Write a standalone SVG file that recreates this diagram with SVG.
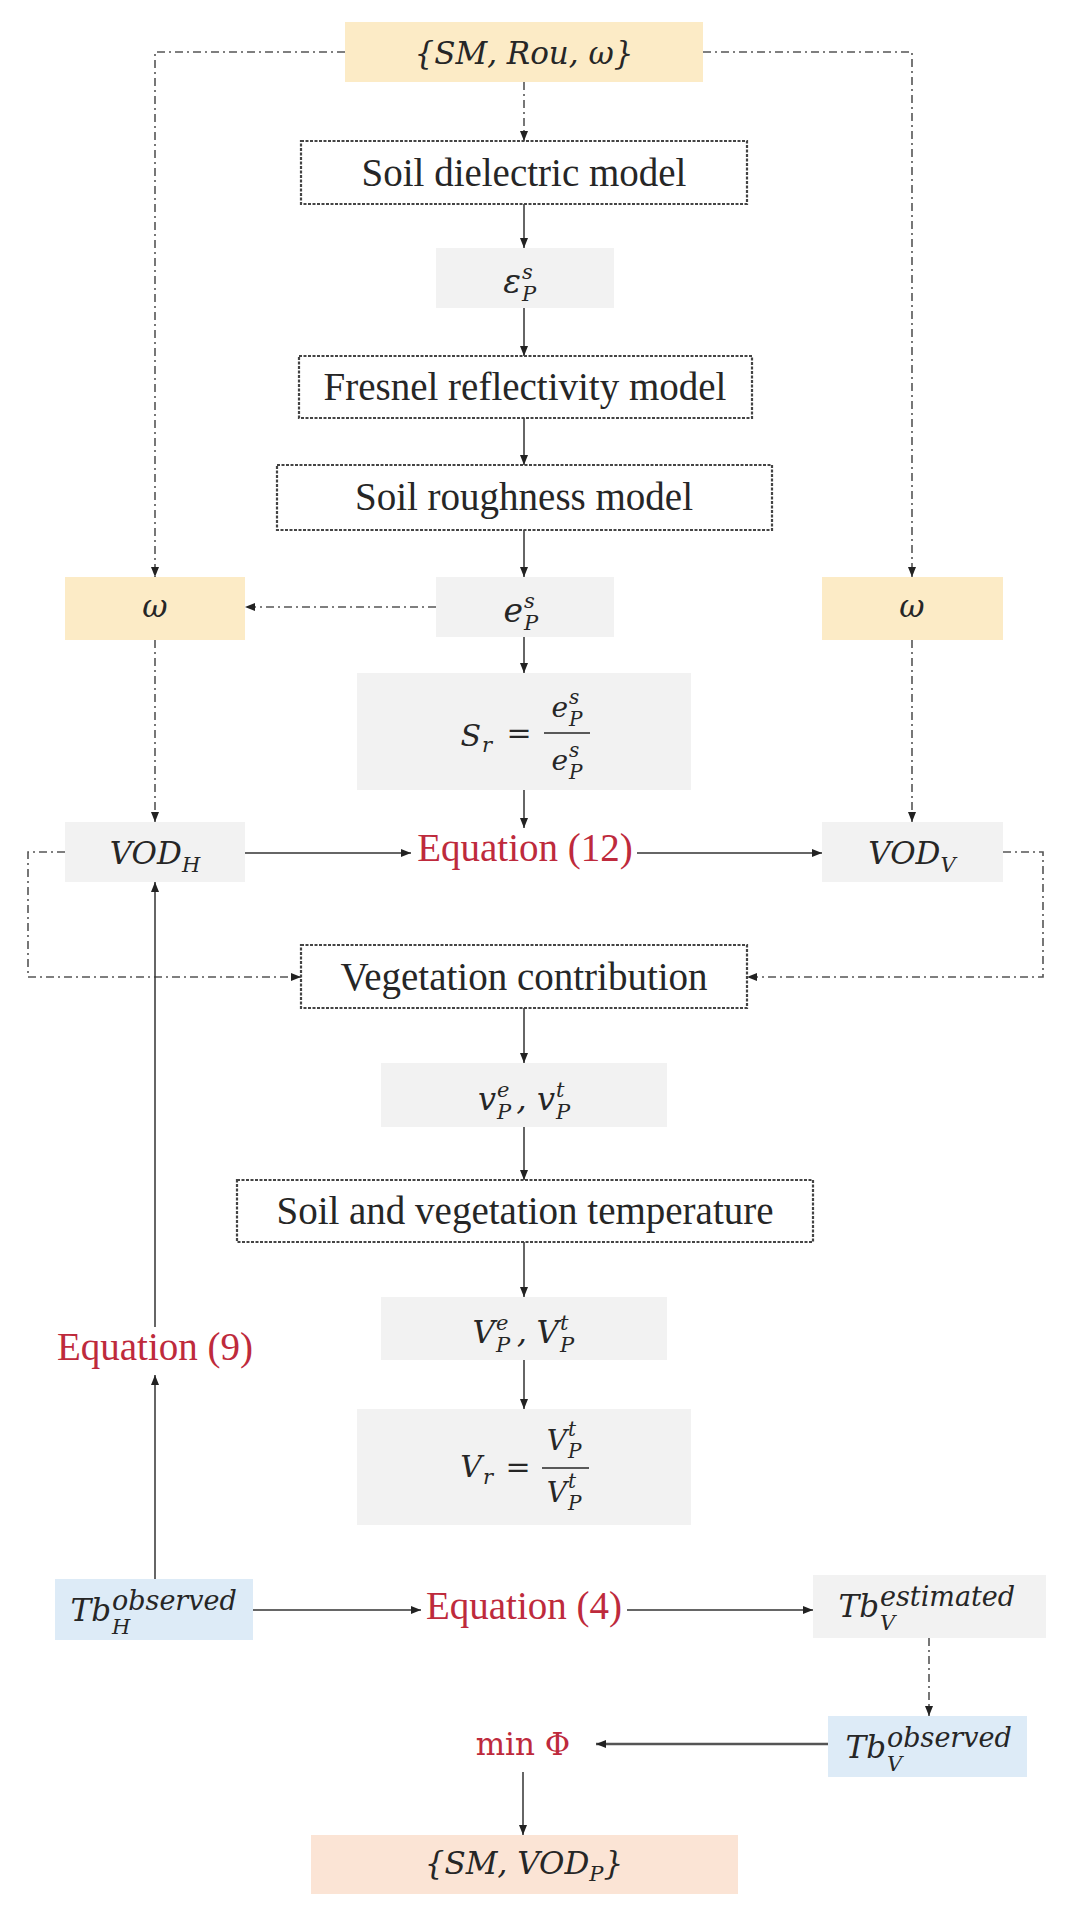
<svg xmlns="http://www.w3.org/2000/svg" width="1070" height="1914" viewBox="0 0 1070 1914">
<style>
.bg{fill:#ffffff}
.lbl{font-family:"Liberation Serif","Times New Roman",serif;font-size:39px;fill:#262626}
.m{font-family:"DejaVu Serif","Liberation Serif",serif;font-style:italic;font-size:31px;fill:#262626}
.up{font-style:normal}
.sup{font-size:27px}
.sc{font-size:21px}
text.red{fill:#BE2A3C}
.dbox{fill:#ffffff;stroke:#444444;stroke-width:2.2;stroke-dasharray:3 1.5}
.gray{fill:#F2F2F2}
.orange{fill:#FCEBC6}
.blue{fill:#DDEBF7}
.salmon{fill:#FBE4D5}
.c{fill:none;stroke:#333333;stroke-width:1.5}
.thick{fill:none;stroke:#555555;stroke-width:2.6}
.dd{fill:none;stroke:#555555;stroke-width:1.6;stroke-dasharray:8 4 2 4}
.bar{stroke:#262626;stroke-width:1.5}
</style>
<defs>
<marker id="ah" markerUnits="userSpaceOnUse" markerWidth="10" markerHeight="8" refX="10" refY="4" orient="auto">
<path d="M0,0 L10,4 L0,8 Z" fill="#222222"/>
</marker>
</defs>
<rect class="bg" x="0" y="0" width="1070" height="1914"/>

<g id="connectors">
<line class="dd" x1="524" y1="82" x2="524" y2="141" marker-end="url(#ah)"/>
<polyline class="dd" points="345,52 155,52 155,577" marker-end="url(#ah)"/>
<polyline class="dd" points="703,52 912,52 912,577" marker-end="url(#ah)"/>
<line class="c" x1="524" y1="204" x2="524" y2="248" marker-end="url(#ah)"/>
<line class="c" x1="524" y1="308" x2="524" y2="356" marker-end="url(#ah)"/>
<line class="c" x1="524" y1="418" x2="524" y2="465" marker-end="url(#ah)"/>
<line class="c" x1="524" y1="530" x2="524" y2="577" marker-end="url(#ah)"/>
<line class="dd" x1="436" y1="607" x2="245" y2="607" marker-end="url(#ah)"/>
<line class="c" x1="524" y1="637" x2="524" y2="673" marker-end="url(#ah)"/>
<line class="dd" x1="155" y1="640" x2="155" y2="822" marker-end="url(#ah)"/>
<line class="dd" x1="912" y1="640" x2="912" y2="822" marker-end="url(#ah)"/>
<line class="c" x1="524" y1="790" x2="524" y2="828" marker-end="url(#ah)"/>
<line class="c" x1="245" y1="853" x2="411" y2="853" marker-end="url(#ah)"/>
<line class="c" x1="637" y1="853" x2="822" y2="853" marker-end="url(#ah)"/>
<polyline class="dd" points="65,852 28,852 28,977 301,977" marker-end="url(#ah)"/>
<polyline class="dd" points="1003,852 1043,852 1043,977 747,977" marker-end="url(#ah)"/>
<line class="c" x1="524" y1="1008" x2="524" y2="1063" marker-end="url(#ah)"/>
<line class="c" x1="524" y1="1127" x2="524" y2="1180" marker-end="url(#ah)"/>
<line class="c" x1="524" y1="1242" x2="524" y2="1297" marker-end="url(#ah)"/>
<line class="c" x1="524" y1="1360" x2="524" y2="1409" marker-end="url(#ah)"/>
<line class="c" x1="155" y1="1579" x2="155" y2="1375" marker-end="url(#ah)"/>
<line class="c" x1="155" y1="1327" x2="155" y2="882" marker-end="url(#ah)"/>
<line class="c" x1="253" y1="1610" x2="421" y2="1610" marker-end="url(#ah)"/>
<line class="c" x1="627" y1="1610" x2="813" y2="1610" marker-end="url(#ah)"/>
<line class="dd" x1="929" y1="1638" x2="929" y2="1716" marker-end="url(#ah)"/>
<line class="thick" x1="828" y1="1744" x2="596" y2="1744" marker-end="url(#ah)"/>
<line class="c" x1="523" y1="1772" x2="523" y2="1835" marker-end="url(#ah)"/>
</g>

<g id="n_input">
<rect class="orange" x="345" y="22" width="358" height="60"/>
<text class="m" x="524" y="64" text-anchor="middle" font-size="29">{SM, Rou, ω}</text>
</g>

<g id="n_dielectric">
<rect class="dbox" x="301" y="141" width="446" height="63"/>
<text class="lbl" x="524" y="186" text-anchor="middle">Soil dielectric model</text>
</g>

<g id="n_eps">
<rect class="gray" x="436" y="248" width="178" height="60"/>
<text class="m"><tspan x="521" y="293" text-anchor="end" font-size="33">ε</tspan><tspan class="sc" x="522" y="279">s</tspan><tspan class="sc" x="522" y="301">P</tspan></text>
</g>

<g id="n_fresnel">
<rect class="dbox" x="299" y="356" width="453" height="62"/>
<text class="lbl" x="525" y="400" text-anchor="middle">Fresnel reflectivity model</text>
</g>

<g id="n_roughness">
<rect class="dbox" x="277" y="465" width="495" height="65"/>
<text class="lbl" x="524" y="510" text-anchor="middle">Soil roughness model</text>
</g>

<g id="n_es">
<rect class="gray" x="436" y="577" width="178" height="60"/>
<text class="m"><tspan x="523" y="622" text-anchor="end" font-size="33">e</tspan><tspan class="sc" x="524" y="608">s</tspan><tspan class="sc" x="524" y="630">P</tspan></text>
</g>

<g id="n_omega_left">
<rect class="orange" x="65" y="577" width="180" height="63"/>
<text class="m" x="155" y="617" text-anchor="middle" font-size="28">ω</text>
</g>

<g id="n_omega_right">
<rect class="orange" x="822" y="577" width="181" height="63"/>
<text class="m" x="912" y="617" text-anchor="middle" font-size="28">ω</text>
</g>

<g id="n_sr">
<rect class="gray" x="357" y="673" width="334" height="117"/>
<line class="bar" x1="544" y1="733" x2="590" y2="733"/>
<text class="m"><tspan x="481" y="746" text-anchor="end" font-size="30">S</tspan><tspan class="sc" x="482" y="752">r</tspan><tspan class="up" x="519" y="743" text-anchor="middle" font-size="30">=</tspan><tspan x="568" y="717" text-anchor="end" font-size="28">e</tspan><tspan x="569" y="704" font-size="20">s</tspan><tspan x="569" y="726" font-size="20">P</tspan><tspan x="568" y="770" text-anchor="end" font-size="28">e</tspan><tspan x="569" y="757" font-size="20">s</tspan><tspan x="569" y="779" font-size="20">P</tspan></text>
</g>

<g id="n_vod_h">
<rect class="gray" x="65" y="822" width="180" height="60"/>
<text class="m" x="155" y="864" text-anchor="middle" font-size="29">VOD<tspan class="sc" dy="8">H</tspan></text>
</g>

<g id="n_eq12">
<text class="lbl red" x="525" y="861" text-anchor="middle">Equation (12)</text>
</g>

<g id="n_vod_v">
<rect class="gray" x="822" y="822" width="181" height="60"/>
<text class="m" x="912" y="864" text-anchor="middle" font-size="29">VOD<tspan class="sc" dy="8">V</tspan></text>
</g>

<g id="n_vegetation">
<rect class="dbox" x="301" y="945" width="446" height="63"/>
<text class="lbl" x="524" y="990" text-anchor="middle">Vegetation contribution</text>
</g>

<g id="n_v_small">
<rect class="gray" x="381" y="1063" width="286" height="64"/>
<text class="m"><tspan x="496" y="1110" text-anchor="end" font-size="32">v</tspan><tspan class="sc" x="497" y="1097">e</tspan><tspan class="sc" x="497" y="1119">P</tspan><tspan x="555" y="1110" text-anchor="end" font-size="32">, v</tspan><tspan class="sc" x="556" y="1097">t</tspan><tspan class="sc" x="556" y="1119">P</tspan></text>
</g>

<g id="n_temperature">
<rect class="dbox" x="237" y="1180" width="576" height="62"/>
<text class="lbl" x="525" y="1224" text-anchor="middle">Soil and vegetation temperature</text>
</g>

<g id="n_V_big">
<rect class="gray" x="381" y="1297" width="286" height="63"/>
<text class="m"><tspan x="495" y="1343" text-anchor="end" font-size="31">V</tspan><tspan class="sc" x="496" y="1330">e</tspan><tspan class="sc" x="496" y="1352">P</tspan><tspan x="559" y="1343" text-anchor="end" font-size="31">, V</tspan><tspan class="sc" x="560" y="1330">t</tspan><tspan class="sc" x="560" y="1352">P</tspan></text>
</g>

<g id="n_vr">
<rect class="gray" x="357" y="1409" width="334" height="116"/>
<line class="bar" x1="542" y1="1468" x2="589" y2="1468"/>
<text class="m"><tspan x="482" y="1477" text-anchor="end" font-size="30">V</tspan><tspan class="sc" x="483" y="1484">r</tspan><tspan class="up" x="518" y="1477" text-anchor="middle" font-size="30">=</tspan><tspan x="567" y="1450" text-anchor="end" font-size="28">V</tspan><tspan x="568" y="1436" font-size="20">t</tspan><tspan x="568" y="1458" font-size="20">P</tspan><tspan x="567" y="1502" text-anchor="end" font-size="28">V</tspan><tspan x="568" y="1488" font-size="20">t</tspan><tspan x="568" y="1510" font-size="20">P</tspan></text>
</g>

<g id="n_eq9">
<text class="lbl red" x="155" y="1360" text-anchor="middle">Equation (9)</text>
</g>

<g id="n_tb_h_obs">
<rect class="blue" x="55" y="1579" width="198" height="61"/>
<text class="m"><tspan x="111" y="1621" text-anchor="end">Tb</tspan><tspan class="sup" x="112" y="1610">observed</tspan><tspan class="sc" x="112" y="1634">H</tspan></text>
</g>

<g id="n_eq4">
<text class="lbl red" x="524" y="1619" text-anchor="middle">Equation (4)</text>
</g>

<g id="n_tb_v_est">
<rect class="gray" x="813" y="1575" width="233" height="63"/>
<text class="m"><tspan x="879" y="1617" text-anchor="end">Tb</tspan><tspan class="sup" x="880" y="1606">estimated</tspan><tspan class="sc" x="880" y="1630">V</tspan></text>
</g>

<g id="n_tb_v_obs">
<rect class="blue" x="828" y="1716" width="199" height="61"/>
<text class="m"><tspan x="886" y="1758" text-anchor="end">Tb</tspan><tspan class="sup" x="887" y="1747">observed</tspan><tspan class="sc" x="887" y="1771">V</tspan></text>
</g>

<g id="n_min">
<text class="m up red" x="523" y="1755" text-anchor="middle" font-size="31">min Φ</text>
</g>

<g id="n_output">
<rect class="salmon" x="311" y="1835" width="427" height="59"/>
<text class="m" x="524" y="1874" text-anchor="middle" font-size="29">{SM, VOD<tspan class="sc" dy="7">P</tspan><tspan dy="-7">}</tspan></text>
</g>
</svg>
